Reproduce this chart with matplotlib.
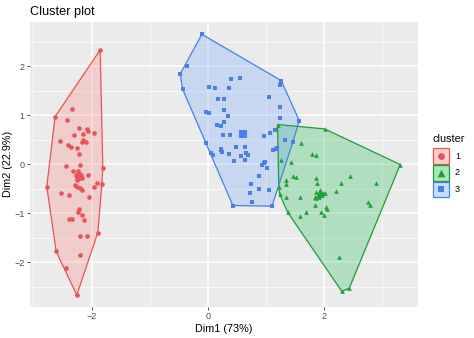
import numpy as np
import matplotlib
matplotlib.use("Agg")
import matplotlib.pyplot as plt
from matplotlib.patches import Rectangle

plt.rcParams['font.family'] = ['Liberation Sans', 'DejaVu Sans']

# points (Dim1, Dim2)
c1_x = [-1.853, -2.628, -2.771, -2.610, -2.438, -2.255, -1.893, -1.824, -1.807,
        -2.329, -2.427, -2.215, -2.071, -2.054, -1.951, -2.301, -2.140, -2.542,
        -2.169, -2.140, -2.094, -2.398, -2.358, -2.255, -2.209, -2.197, -2.438,
        -2.324, -2.226, -2.054, -2.255, -2.226, -2.197, -2.169, -2.243, -2.266,
        -2.283, -2.255, -2.197, -2.169, -1.910, -1.956, -2.524, -2.387, -2.043,
        -2.209, -2.226, -2.169, -2.381, -2.341, -2.129, -2.197, -2.071, -2.197]
c1_y = [2.333, 0.973, -0.456, -1.782, -2.129, -2.673, -1.395, -0.408, -0.082,
        1.122, 0.905, 0.735, 0.714, 0.687, 0.633, 0.605, 0.612, 0.483,
        0.463, 0.497, 0.463, 0.388, 0.347, 0.340, 0.211, -0.007, -0.034,
        -0.129, -0.129, -0.224, -0.252, -0.286, -0.252, -0.286, -0.320, -0.218,
        -0.422, -0.456, -0.490, -0.524, -0.388, -0.456, -0.578, -0.639, -0.660,
        -0.918, -0.986, -1.034, -1.109, -1.116, -1.136, -1.476, -1.476, -1.850]

c2_x = [1.199, 2.008, 3.310, 2.433, 2.306, 1.371, 1.233, 1.220,
        1.601, 1.790, 1.865, 1.434, 1.262, 1.463, 1.509, 1.348, 1.337, 1.865,
        1.876, 2.438, 2.295, 2.892, 2.197, 2.020, 1.945, 1.865, 1.905, 1.934,
        1.980, 1.836, 1.865, 1.911, 1.348, 1.589, 1.836, 2.037, 2.048, 2.748,
        2.794, 1.693, 1.578, 1.951, 1.991, 2.260]
c2_y = [0.810, 0.721, -0.007, -2.531, -2.599, -0.980, -0.605, -0.456,
        0.429, 0.204, 0.190, 0.054, 0.088, -0.238, -0.252, -0.320, -0.395, -0.286,
        -0.374, -0.238, -0.388, -0.388, -0.551, -0.592, -0.578, -0.558, -0.612, -0.537,
        -0.592, -0.660, -0.694, -0.660, -0.673, -0.660, -0.830, -0.864, -0.905, -0.782,
        -0.837, -0.986, -1.048, -0.980, -1.034, -1.898]

c3_x = [-0.103, -0.476, -0.436, -0.029, 0.430, 1.102, 1.572, 1.262,
        -0.361, 1.233, 0.402, 0.557, 0.023, 0.126, 0.361, 1.044, 0.166, 0.281,
        0.281, -0.040, 0.011, 1.245, 0.344, 0.270, 1.233, 0.155, 0.224, 0.258,
        0.384, 0.970, 1.061, 1.159, 1.331, 1.463, 0.224, 0.241, 0.482, 0.643,
        0.052, 0.080, 0.230, 0.356, 0.568, 0.660, 0.694, 0.442, 0.643, 0.958,
        0.930, 0.987, 1.016, 1.119, 1.176, 1.190, 0.878, 0.740, 1.044, 0.884,
        0.729, 0.758]
c3_y = [2.653, 1.844, 1.537, 0.429, -0.844, -0.857, 0.891, 1.707,
        2.014, 1.619, 1.748, 1.762, 1.571, 1.558, 1.558, 1.381, 1.333, 1.333,
        1.116, 1.061, 1.041, 1.163, 0.993, 0.857, 0.939, 0.796, 0.782, 0.599,
        0.599, 0.578, 0.633, 0.701, 0.497, 0.456, 0.320, 0.252, 0.361, 0.354,
        0.224, 0.197, 0.290, 0.204, 0.170, 0.224, 0.197, 0.075, 0.088, 0.034,
        -0.020, 0.054, -0.068, 0.293, 0.313, 0.340, -0.238, -0.395, -0.517, -0.497,
        -0.578, -0.762]

cent_x = [-2.21, 1.93, 0.61]
cent_y = [-0.25, -0.58, 0.61]

labels = ['1', '2', '3']
colors = ['#F8766D', '#00BA38', '#619CFF']
edges = ['#E8525A', '#1E9E3A', '#4A7FE8']
markers = ['o', '^', 's']


def hull(x, y):
    pts = sorted(set(zip(x, y)))

    def cross(o, a, b):
        return (a[0] - o[0]) * (b[1] - o[1]) - (a[1] - o[1]) * (b[0] - o[0])
    lower, upper = [], []
    for p in pts:
        while len(lower) >= 2 and cross(lower[-2], lower[-1], p) <= 0:
            lower.pop()
        lower.append(p)
    for p in reversed(pts):
        while len(upper) >= 2 and cross(upper[-2], upper[-1], p) <= 0:
            upper.pop()
        upper.append(p)
    h = np.array(lower[:-1] + upper[:-1])
    return h[:, 0], h[:, 1]


W, H = 474, 338
fig = plt.figure(figsize=(W / 100, H / 100), dpi=100)
ax = fig.add_axes([30 / W, (H - 306.7) / H, 387.7 / W, 285 / H])
ax.set_facecolor('#EBEBEB')

xs = [c1_x, c2_x, c3_x]
ys = [c1_y, c2_y, c3_y]
for i in range(3):
    hx, hy = hull(xs[i], ys[i])
    ax.fill(hx, hy, facecolor=colors[i], alpha=0.25, edgecolor='none', zorder=2)
    ax.fill(hx, hy, facecolor='none', edgecolor=edges[i], lw=0.9, zorder=3)
    ax.scatter(xs[i], ys[i], s=11, marker=markers[i],
               color=edges[i], linewidths=0, zorder=4)
    ax.scatter([cent_x[i]], [cent_y[i]], s=40, marker=markers[i],
               color=edges[i], linewidths=0, zorder=4)

ax.set_xlim(-3.06, 3.61)
ax.set_ylim(-2.91, 2.91)
ax.set_xticks([-2, 0, 2])
ax.set_yticks([-2, -1, 0, 1, 2])
ax.set_xticks([-3, -1, 1, 3], minor=True)
ax.set_yticks([-2.5, -1.5, -0.5, 0.5, 1.5, 2.5], minor=True)
ax.grid(which='major', color='white', lw=1.1, zorder=0)
ax.grid(which='minor', color='white', lw=0.5, zorder=0)
ax.set_axisbelow(True)
for s in ax.spines.values():
    s.set_visible(False)
ax.tick_params(which='major', length=2.5, width=0.6, color='#333333',
               labelsize=6.5, labelcolor='#4D4D4D', pad=1.5)
ax.tick_params(which='minor', length=0)

ax.set_xlabel('Dim1 (73%)', fontsize=7.8, labelpad=2)
ax.set_ylabel('Dim2 (22.9%)', fontsize=7.8, labelpad=1)
ax.set_title('Cluster plot', fontsize=9.2, loc='left', pad=5)

# legend drawn in its own small axes (pixel units, y downwards)
lax = fig.add_axes([430 / W, (H - 202) / H, 44 / W, 72 / H])
lax.set_xlim(430, 474)
lax.set_ylim(202, 130)
lax.axis('off')
lax.text(432.7, 139, 'cluster', fontsize=7.8, va='center', ha='left')
key_top = 147.7
key_h = 16.7
for i in range(3):
    y0 = key_top + i * key_h
    lax.add_patch(Rectangle((433.2, y0 + 0.5), 15.5, key_h - 1,
                            facecolor=colors[i], alpha=0.35, edgecolor='none'))
    lax.add_patch(Rectangle((433.2, y0 + 0.5), 15.5, key_h - 1,
                            facecolor='none', edgecolor=edges[i], lw=0.9))
    lax.scatter([441], [y0 + key_h / 2], s=24 if i != 1 else 30,
                marker=markers[i], color=edges[i], linewidths=0)
    lax.text(455, y0 + key_h / 2, labels[i], fontsize=6.5, va='center',
             ha='left')

fig.savefig('out.png', dpi=100)
